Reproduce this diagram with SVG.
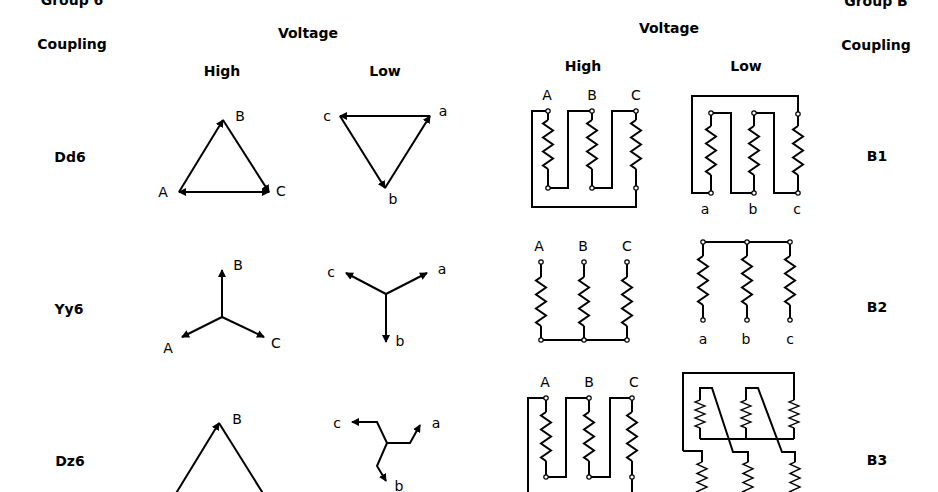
<svg xmlns="http://www.w3.org/2000/svg" width="938" height="492" viewBox="0 0 938 492">
<style>
.h{font-family:"DejaVu Sans",sans-serif;font-weight:bold;font-size:14px;fill:#000;text-anchor:middle}
.l{font-family:"DejaVu Sans",sans-serif;font-size:14px;fill:#000;text-anchor:middle}
.w{fill:none;stroke:#000;stroke-width:2}
.a{fill:none;stroke:#000;stroke-width:2;marker-end:url(#ar)}
.d{fill:#fff;stroke:#000;stroke-width:1.2}
</style>
<defs>
<marker id="ar" markerWidth="8" markerHeight="8" refX="7" refY="4" orient="auto" markerUnits="userSpaceOnUse"><path d="M0,0 L8,4 L0,8 Z" fill="#000"/></marker>
<path id="z" d="M0,0 l-5,3.5 10,7 -10,7 10,7 -10,7 10,7 -10,7 5,3.5" fill="none" stroke="#000" stroke-width="2"/>
</defs>
<g id="headers">
<text class="h" x="72" y="5">Group 6</text><text class="h" x="72" y="49">Coupling</text>
<text class="h" x="308" y="38">Voltage</text><text class="h" x="222" y="76">High</text><text class="h" x="385" y="76">Low</text>
<text class="h" x="669" y="33">Voltage</text><text class="h" x="583" y="71">High</text><text class="h" x="746" y="71">Low</text>
<text class="h" x="876" y="6">Group B</text><text class="h" x="876" y="50">Coupling</text>
<text class="h" x="70" y="162">Dd6</text><text class="h" x="69" y="314">Yy6</text><text class="h" x="70" y="466">Dz6</text>
<text class="h" x="877" y="161">B1</text><text class="h" x="877" y="312">B2</text><text class="h" x="877" y="465">B3</text>
</g>
<g id="connectors">
<g id="dd6-high-phasor">
<line class="a" x1="179" y1="192" x2="223" y2="120"/><line class="a" x1="223" y1="120" x2="269" y2="192"/><line class="a" x1="179" y1="192" x2="269" y2="192"/><line class="a" x1="200" y1="192" x2="179" y2="192" stroke-width="0"/>
<text class="l" x="163" y="197">A</text><text class="l" x="240" y="121">B</text><text class="l" x="281" y="196">C</text>
</g>
<g id="dd6-low-phasor">
<line class="a" x1="430" y1="116" x2="340" y2="116"/><line class="a" x1="340" y1="116" x2="385" y2="188"/><line class="a" x1="385" y1="188" x2="430" y2="116"/>
<text class="l" x="327" y="121">c</text><text class="l" x="443" y="116">a</text><text class="l" x="393" y="204">b</text>
</g>
<g id="yy6-high-phasor">
<line class="a" x1="222" y1="317" x2="222" y2="270"/><line class="a" x1="222" y1="317" x2="182" y2="337"/><line class="a" x1="222" y1="317" x2="264" y2="337"/>
<text class="l" x="238" y="270">B</text><text class="l" x="168" y="353">A</text><text class="l" x="276" y="348">C</text>
</g>
<g id="yy6-low-phasor">
<line class="a" x1="386" y1="294" x2="346" y2="273"/><line class="a" x1="386" y1="294" x2="427" y2="273"/><line class="a" x1="386" y1="294" x2="386" y2="342"/>
<text class="l" x="331" y="277">c</text><text class="l" x="442" y="274">a</text><text class="l" x="400" y="346">b</text>
</g>
<g id="dz6-high-phasor">
<line class="a" x1="175" y1="495" x2="219" y2="423"/><line class="w" x1="219" y1="423" x2="264" y2="495"/>
<text class="l" x="237" y="424">B</text><text class="l" x="160" y="503">A</text><text class="l" x="279" y="503">C</text>
</g>
<g id="dz6-low-phasor">
<polyline class="a" points="387,443 377,422 352,422"/><polyline class="a" points="387,443 410,443 420,425"/><polyline class="a" points="387,443 377,466 386,481"/>
<text class="l" x="337" y="428">c</text><text class="l" x="436" y="428">a</text><text class="l" x="399" y="491">b</text>
</g>
</g>
<g id="dd6-high-windings">
<polyline class="w" points="548,111 532,111 532,207 636,207 636,188"/>
<polyline class="w" points="548,188 568,188 568,111 592,111"/>
<polyline class="w" points="592,188 612,188 612,111 636,111"/>
<g class="w"><line x1="548" y1="111" x2="548" y2="120"/><line x1="548" y1="169" x2="548" y2="188"/><line x1="592" y1="111" x2="592" y2="120"/><line x1="592" y1="169" x2="592" y2="188"/><line x1="636" y1="111" x2="636" y2="120"/><line x1="636" y1="169" x2="636" y2="188"/></g>
<use href="#z" x="548" y="120"/><use href="#z" x="592" y="120"/><use href="#z" x="636" y="120"/>
<circle class="d" cx="548" cy="111" r="2.2"/><circle class="d" cx="548" cy="188" r="2.2"/><circle class="d" cx="592" cy="111" r="2.2"/><circle class="d" cx="592" cy="188" r="2.2"/><circle class="d" cx="636" cy="111" r="2.2"/><circle class="d" cx="636" cy="188" r="2.2"/>
<text class="l" x="547" y="100">A</text><text class="l" x="592" y="100">B</text><text class="l" x="636" y="100">C</text>
</g>
<g id="dd6-low-windings">
<polyline class="w" points="711,193 692,193 692,96 798,96 798,114"/>
<polyline class="w" points="711,113 731,113 731,193 754,193"/>
<polyline class="w" points="754,113 774,113 774,193 798,193"/>
<g class="w"><line x1="711" y1="113" x2="711" y2="126"/><line x1="711" y1="175" x2="711" y2="193"/><line x1="754" y1="113" x2="754" y2="126"/><line x1="754" y1="175" x2="754" y2="193"/><line x1="798" y1="114" x2="798" y2="126"/><line x1="798" y1="175" x2="798" y2="193"/></g>
<use href="#z" x="711" y="126"/><use href="#z" x="754" y="126"/><use href="#z" x="798" y="126"/>
<circle class="d" cx="711" cy="113" r="2.2"/><circle class="d" cx="711" cy="193" r="2.2"/><circle class="d" cx="754" cy="113" r="2.2"/><circle class="d" cx="754" cy="193" r="2.2"/><circle class="d" cx="798" cy="114" r="2.2"/><circle class="d" cx="798" cy="193" r="2.2"/>
<text class="l" x="705" y="214">a</text><text class="l" x="753" y="214">b</text><text class="l" x="797" y="214">c</text>
</g>
<g id="yy6-high-windings">
<line class="w" x1="541" y1="340" x2="627" y2="340"/>
<g class="w"><line x1="541" y1="262" x2="541" y2="277"/><line x1="541" y1="326" x2="541" y2="340"/><line x1="584" y1="262" x2="584" y2="277"/><line x1="584" y1="326" x2="584" y2="340"/><line x1="627" y1="262" x2="627" y2="277"/><line x1="627" y1="326" x2="627" y2="340"/></g>
<use href="#z" x="541" y="277"/><use href="#z" x="584" y="277"/><use href="#z" x="627" y="277"/>
<circle class="d" cx="541" cy="262" r="2.2"/><circle class="d" cx="541" cy="340" r="2.2"/><circle class="d" cx="584" cy="262" r="2.2"/><circle class="d" cx="584" cy="340" r="2.2"/><circle class="d" cx="627" cy="262" r="2.2"/><circle class="d" cx="627" cy="340" r="2.2"/>
<text class="l" x="539" y="251">A</text><text class="l" x="583" y="251">B</text><text class="l" x="627" y="251">C</text>
</g>
<g id="yy6-low-windings">
<line class="w" x1="703" y1="242" x2="790" y2="242"/>
<g class="w"><line x1="703" y1="242" x2="703" y2="256"/><line x1="703" y1="305" x2="703" y2="320"/><line x1="747" y1="242" x2="747" y2="256"/><line x1="747" y1="305" x2="747" y2="320"/><line x1="790" y1="242" x2="790" y2="256"/><line x1="790" y1="305" x2="790" y2="320"/></g>
<use href="#z" x="703" y="256"/><use href="#z" x="747" y="256"/><use href="#z" x="790" y="256"/>
<circle class="d" cx="703" cy="242" r="2.2"/><circle class="d" cx="703" cy="320" r="2.2"/><circle class="d" cx="747" cy="242" r="2.2"/><circle class="d" cx="747" cy="320" r="2.2"/><circle class="d" cx="790" cy="242" r="2.2"/><circle class="d" cx="790" cy="320" r="2.2"/>
<text class="l" x="703" y="344">a</text><text class="l" x="746" y="344">b</text><text class="l" x="790" y="344">c</text>
</g>
<g id="dz6-high-windings">
<polyline class="w" points="546,398 528,398 528,495"/>
<polyline class="w" points="546,477 566,477 566,398 589,398"/>
<polyline class="w" points="589,477 610,477 610,398 632,398"/>
<g class="w"><line x1="546" y1="398" x2="546" y2="412"/><line x1="546" y1="461" x2="546" y2="477"/><line x1="589" y1="398" x2="589" y2="412"/><line x1="589" y1="461" x2="589" y2="477"/><line x1="632" y1="398" x2="632" y2="412"/><line x1="632" y1="461" x2="632" y2="495"/></g>
<use href="#z" x="546" y="412"/><use href="#z" x="589" y="412"/><use href="#z" x="632" y="412"/>
<circle class="d" cx="546" cy="398" r="2.2"/><circle class="d" cx="546" cy="477" r="2.2"/><circle class="d" cx="589" cy="398" r="2.2"/><circle class="d" cx="589" cy="477" r="2.2"/><circle class="d" cx="632" cy="398" r="2.2"/><circle class="d" cx="632" cy="477" r="2.2"/>
<text class="l" x="545" y="387">A</text><text class="l" x="589" y="387">B</text><text class="l" x="634" y="387">C</text>
</g>
<g id="dz6-low-windings">
<polyline class="w" points="683,451 683,373 794,373 794,400"/>
<polyline class="w" points="683,451 702,451 702,462"/>
<line class="w" x1="700" y1="439" x2="794" y2="439"/>
<polyline class="w" points="700,400 700,388 712,388 733,452 748,452 748,462"/>
<polyline class="w" points="746,400 746,388 758,388 782,452 795,452 795,462"/>
<g class="w"><line x1="700" y1="428" x2="700" y2="439"/><line x1="746" y1="428" x2="746" y2="439"/><line x1="794" y1="428" x2="794" y2="439"/></g>
<g transform="translate(0,400) scale(1,0.57)"><use href="#z" x="700" y="0"/><use href="#z" x="746" y="0"/><use href="#z" x="794" y="0"/></g>
<g transform="translate(0,462) scale(1,0.65)"><use href="#z" x="702" y="0"/><use href="#z" x="748" y="0"/><use href="#z" x="795" y="0"/></g>
</g>
</svg>
